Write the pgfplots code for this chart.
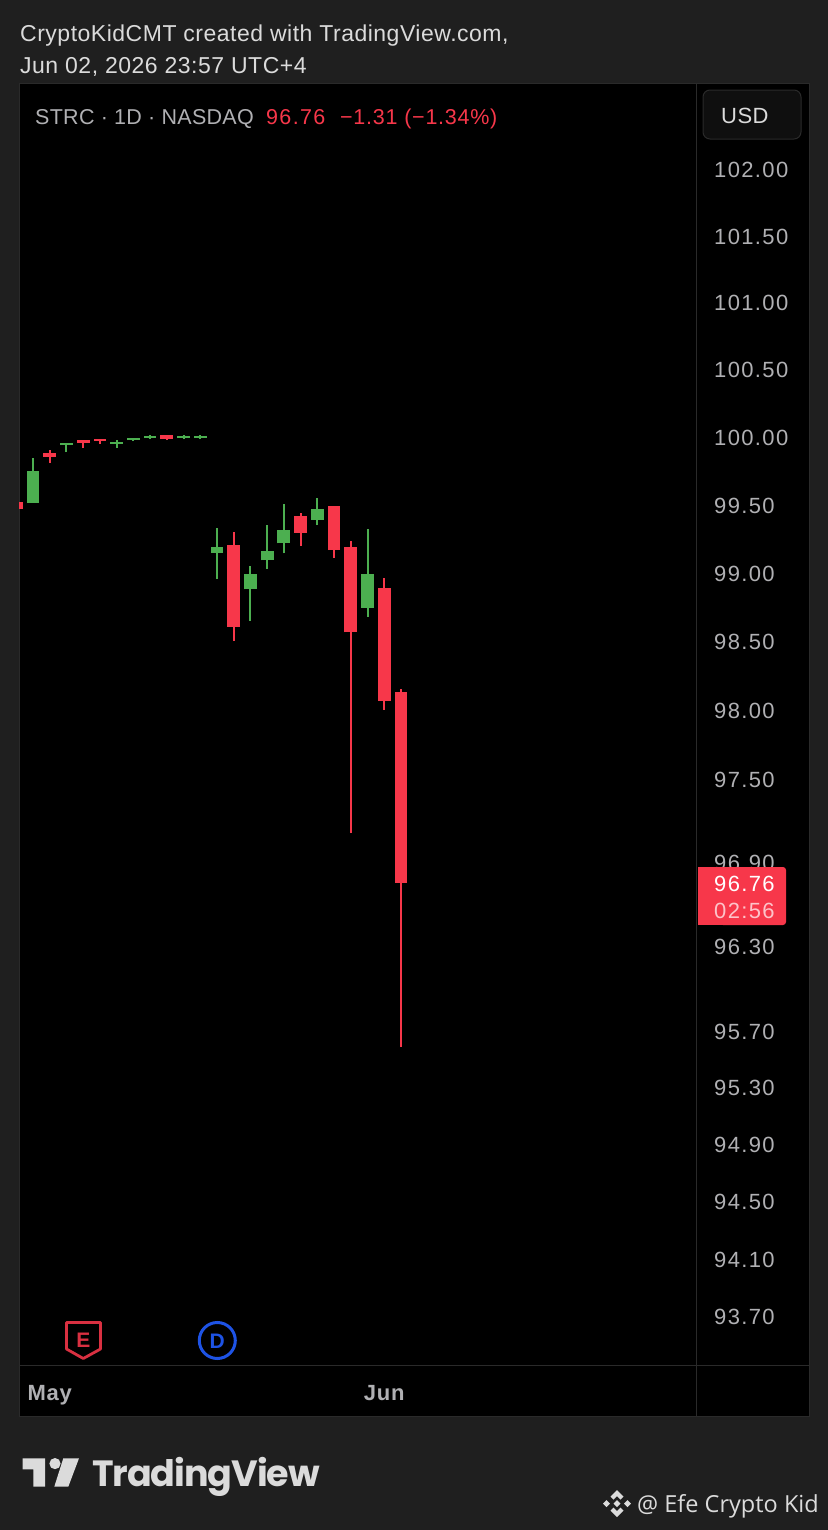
\documentclass[border=0pt]{standalone}
\usepackage{fontspec}
\usepackage{pgfplots}
\pgfplotsset{compat=1.18}
\setmainfont{Liberation Sans}
\newfontfamily\tvfont[LetterSpace=6.2]{Liberation Sans}
\newfontfamily\hdfont[LetterSpace=2.2]{Liberation Sans}
\newfontfamily\stfont[LetterSpace=1.3]{Liberation Sans}
\newfontfamily\rdfont[LetterSpace=3.5]{Liberation Sans}
\newfontfamily\mmfont[LetterSpace=3.5]{Liberation Sans}
\newfontfamily\logofont[LetterSpace=-3]{Poppins}
\newfontfamily\wmfont{Open Sans}
\definecolor{bgc}{HTML}{1F1F1F}
\definecolor{frm}{HTML}{2A2A2A}
\definecolor{upc}{HTML}{4CAF50}
\definecolor{dnc}{HTML}{F7374A}
\definecolor{hdc}{HTML}{DBDBDB}
\definecolor{tkc}{HTML}{B0B0B3}
\definecolor{blu}{RGB}{30,83,229}
% one candle: colour, index, body bottom, body top, low, high
\newcommand\candle[6]{%
  \addplot[no marks,draw=#1,line width=2bp] coordinates {(#2,#5)(#2,#6)};
  \addplot[no marks,draw=#1,line width=12.8bp] coordinates {(#2,#3)(#2,#4)};
}
\begin{document}
\begin{tikzpicture}
\useasboundingbox (0,0) rectangle (828bp,-1530bp);
\fill[bgc] (0,0) rectangle (828bp,-1530bp);
\begin{scope}[x=1bp,y=-1bp]
\filldraw[fill=black,draw=frm,line width=1bp] (19,83) rectangle (809,1416);
\draw[frm,line width=1bp] (696.5,83) -- (696.5,1416);
\draw[frm,line width=1bp] (19,1365) -- (809,1365);
\end{scope}
\begin{axis}[
  at={(19bp,-1365bp)},anchor=south west,
  scale only axis,width=677bp,height=1282bp,
  % the price scale is logarithmic: 1000 ln(y/100) written as a short series in y-100
  y coord trafo/.code={\pgfmathparse{(#1-100)*(10-0.05*(#1-100)+0.000333*(#1-100)*(#1-100)-0.0000025*(#1-100)*(#1-100)*(#1-100))}},
  xmin=0.163,xmax=40.64,
  ymin=93.368,ymax=102.659,
  axis line style={draw=none},
  major tick length=0pt,
  xtick={2,22},xticklabels={May,Jun},
  ytick={93.7,94.1,94.5,94.9,95.3,95.7,96.3,96.9,97.5,98,98.5,99,99.5,100,100.5,101,101.5,102},
  yticklabels={93.70,94.10,94.50,94.90,95.30,95.70,96.30,96.90,97.50,98.00,98.50,99.00,99.50,100.00,100.50,101.00,101.50,102.00},
  ytick pos=right,yticklabel pos=right,
  yticklabel style={anchor=west,xshift=18bp,inner sep=0pt,text=tkc,font=\fontsize{22bp}{24bp}\selectfont\tvfont},
  xticklabel style={anchor=center,yshift=-29.5bp,inner sep=0pt,text height=16bp,text depth=5bp,text=tkc,font=\fontsize{22bp}{24bp}\selectfont\mmfont\bfseries},
  clip=true,
]
\candle{dnc}{0}{99.471}{99.525}{99.471}{99.525}
\candle{upc}{1}{99.519}{99.755}{99.519}{99.849}
\candle{dnc}{2}{99.859}{99.886}{99.812}{99.908}
\candle{upc}{3}{99.945}{99.960}{99.894}{99.960}
\candle{dnc}{4}{99.960}{99.984}{99.923}{99.984}
\candle{dnc}{5}{99.975}{99.990}{99.953}{99.990}
\candle{upc}{6}{99.955}{99.970}{99.923}{99.982}
\candle{upc}{7}{99.982}{99.997}{99.975}{99.997}
\candle{upc}{8}{99.997}{100.012}{99.990}{100.019}
\candle{dnc}{9}{99.990}{100.019}{99.982}{100.019}
\candle{upc}{10}{99.997}{100.012}{99.990}{100.019}
\candle{upc}{11}{99.997}{100.012}{99.990}{100.019}
\candle{upc}{12}{99.150}{99.194}{98.959}{99.333}
\candle{dnc}{13}{98.611}{99.211}{98.506}{99.304}
\candle{upc}{14}{98.884}{98.996}{98.654}{99.054}
\candle{upc}{15}{99.096}{99.167}{99.035}{99.355}
\candle{upc}{16}{99.221}{99.321}{99.148}{99.510}
\candle{dnc}{17}{99.299}{99.424}{99.203}{99.441}
\candle{upc}{18}{99.392}{99.473}{99.355}{99.552}
\candle{dnc}{19}{99.172}{99.493}{99.115}{99.493}
\candle{dnc}{20}{98.570}{99.194}{97.117}{99.238}
\candle{upc}{21}{98.749}{98.996}{98.684}{99.324}
\candle{dnc}{22}{98.070}{98.896}{98.007}{98.964}
\candle{dnc}{23}{96.760}{98.133}{95.591}{98.157}
\end{axis}
\begin{scope}[x=1bp,y=-1bp,every node/.style={inner sep=0pt,anchor=base west}]
% header
\node[text=hdc,font=\fontsize{23bp}{26bp}\selectfont\hdfont] at (20,41.7) {CryptoKidCMT created with TradingView.com,};
\node[text=hdc,font=\fontsize{23bp}{26bp}\selectfont\hdfont] at (20,73.3) {Jun 02, 2026 23:57 UTC+4};
\node[text=tkc,font=\fontsize{21.5bp}{24bp}\selectfont\stfont] at (35,124.3) {STRC · 1D · NASDAQ};
\node[text=dnc,font=\fontsize{21.5bp}{24bp}\selectfont\tvfont] at (266,124.3) {96.76};
\node[text=dnc,font=\fontsize{21.5bp}{24bp}\selectfont\rdfont] at (340,124.3) {−1.31 (−1.34\%)};
% USD
\filldraw[fill=bgc!50!black,draw=frm,line width=1bp,rounded corners=7bp] (703,90) rectangle (801,139);
\node[text=hdc,font=\fontsize{22bp}{24bp}\selectfont\hdfont] at (721,123) {USD};
% last price tag
\fill[dnc,rounded corners=3bp] (720,867) rectangle (786,925);
\fill[dnc] (698,867) rectangle (730,925);
\node[text=white,font=\fontsize{22bp}{24bp}\selectfont\tvfont] at (714,891.5) {96.76};
\node[text=white!70!dnc,font=\fontsize{22bp}{24bp}\selectfont\tvfont] at (714,918) {02:56};
% E badge
\draw[draw=dnc!88!black,line width=2.8bp,line join=round] (66.5,1322.5) -- (100.5,1322.5) -- (100.5,1349) -- (83.3,1358.5) -- (66.5,1349) -- cycle;
\node[text=dnc!88!black,font=\fontsize{21bp}{24bp}\selectfont\bfseries,anchor=base] at (83.3,1347.5) {E};
% D badge
\draw[draw=blu,line width=3bp] (217.3,1340.5) circle (18bp);
\node[text=blu,font=\fontsize{21bp}{24bp}\selectfont\bfseries,anchor=base] at (217.3,1348) {D};
% TradingView logo
\fill[hdc] (22.7,1458.3) -- (45,1458.3) -- (45,1486.7) -- (33.3,1486.7) -- (33.3,1469.3) -- (22.7,1469.3) -- cycle;
\fill[hdc] (55,1463.6) circle (5.6bp);
\fill[hdc] (63.3,1458.3) -- (79,1458.3) -- (68.3,1486.7) -- (54.3,1486.7) -- cycle;
\node[text=hdc,font=\fontsize{36.5bp}{40bp}\selectfont\logofont\bfseries] at (92,1486.7) {TradingView};
% watermark
\fill[hdc] (617,1490) -- (623.5,1496.5) -- (620.5,1499.5) -- (617,1496) -- (613.5,1499.5) -- (610.5,1496.5) -- cycle;
\fill[hdc] (617,1517) -- (623.5,1510.5) -- (620.5,1507.5) -- (617,1511) -- (613.5,1507.5) -- (610.5,1510.5) -- cycle;
\fill[hdc] (603,1503.5) -- (606.5,1500) -- (610,1503.5) -- (606.5,1507) -- cycle;
\fill[hdc] (624,1503.5) -- (627.5,1500) -- (631,1503.5) -- (627.5,1507) -- cycle;
\fill[hdc] (613.5,1503.5) -- (617,1500) -- (620.5,1503.5) -- (617,1507) -- cycle;
\node[text=hdc,font=\fontsize{23.5bp}{26bp}\selectfont\wmfont] at (637,1512.5) {@ Efe Crypto Kid};
\end{scope}
\end{tikzpicture}
\end{document}
